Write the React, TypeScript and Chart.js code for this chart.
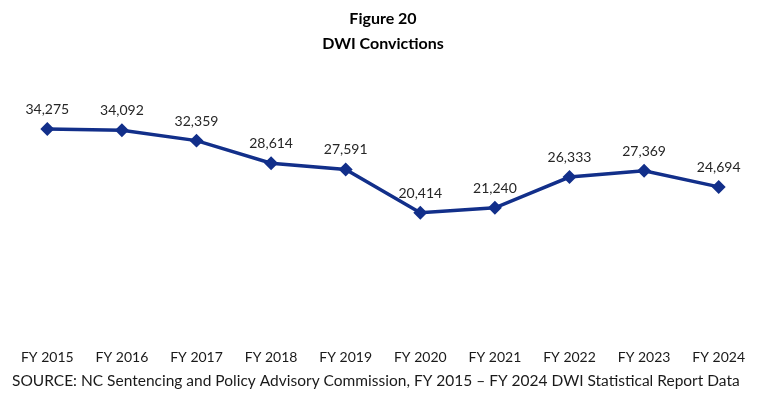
import React, { useEffect, useRef } from "react";
import { Chart, registerables } from "chart.js";

Chart.register(...registerables);

const categories = ["FY 2015", "FY 2016", "FY 2017", "FY 2018", "FY 2019", "FY 2020", "FY 2021", "FY 2022", "FY 2023", "FY 2024"];
const convictions = [34275, 34092, 32359, 28614, 27591, 20414, 21240, 26333, 27369, 24694];
const titleLines = ["Figure 20", "DWI Convictions"];
const sourceText = "SOURCE: NC Sentencing and Policy Advisory Commission, FY 2015 \u2013 FY 2024 DWI Statistical Report Data";

const FONT = "Lato, 'Open Sans', sans-serif";
const LINE_COLOR = "#122F8A";

const decorPlugin = {
  id: "decor",
  afterDatasetsDraw(chart: any) {
    const ctx = chart.ctx;
    ctx.save();
    const meta = chart.getDatasetMeta(0);
    ctx.fillStyle = "#262626";
    ctx.font = `14px ${FONT}`;
    ctx.textAlign = "center";
    ctx.textBaseline = "middle";
    meta.data.forEach((pt: any, i: number) => {
      const v = convictions[i];
      ctx.fillText(v.toLocaleString("en-US"), pt.x, pt.y - 19.5);
    });
    ctx.fillStyle = "#000000";
    ctx.font = `bold 16px ${FONT}`;
    ctx.fillText(titleLines[0], 383, 19);
    ctx.fillText(titleLines[1], 383, 44);
    ctx.font = `15.5px ${FONT}`;
    ctx.textAlign = "left";
    ctx.fillStyle = "#1a1a1a";
    ctx.fillText(sourceText, 12, 381);
    ctx.restore();
  },
};

export default function App() {
  const ref = useRef<HTMLCanvasElement>(null);
  useEffect(() => {
    const chart = new Chart(ref.current!, {
      type: "line",
      data: {
        labels: categories,
        datasets: [
          {
            data: convictions,
            borderColor: LINE_COLOR,
            backgroundColor: LINE_COLOR,
            borderWidth: 3.5,
            pointStyle: "rectRot",
            pointRadius: 4.5,
            pointBackgroundColor: LINE_COLOR,
            pointBorderColor: LINE_COLOR,
            tension: 0,
          },
        ],
      },
      options: {
        responsive: false,
        animation: false,
        layout: { padding: { top: 94.5, left: 10, right: 23, bottom: 26 } },
        plugins: { legend: { display: false }, tooltip: { enabled: false }, title: { display: false } },
        scales: {
          x: {
            offset: true,
            grid: { display: false },
            border: { display: false },
            ticks: { padding: 4.6, color: "#1a1a1a", font: { family: FONT, size: 14 }, maxRotation: 0, autoSkip: false },
          },
          y: { display: false, min: 0, max: 40000 },
        },
      },
      plugins: [decorPlugin],
    });
    return () => chart.destroy();
  }, []);
  return (
    <div style={{ position: "absolute", left: 0, top: 0, width: 779, height: 396, background: "#fff" }}>
      <canvas ref={ref} width={779} height={396} style={{ width: 779, height: 396, display: "block" }} />
    </div>
  );
}
